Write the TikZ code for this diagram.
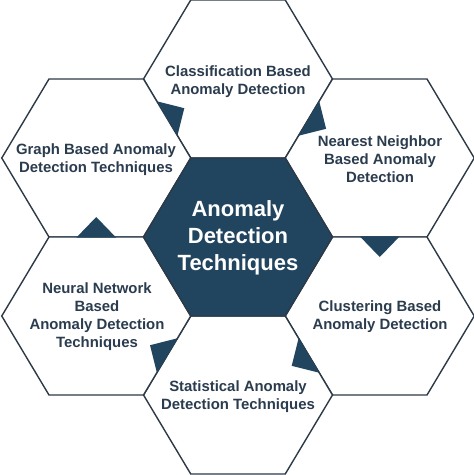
\documentclass[tikz,border=0pt]{standalone}
\usepackage{fontspec}
\setmainfont{Liberation Sans}
\usetikzlibrary{calc}
\definecolor{navy}{HTML}{21445F}
\definecolor{hexedge}{HTML}{2C3A47}
\definecolor{txt}{HTML}{2A3C4E}
\begin{document}
\begin{tikzpicture}[x=1pt,y=-1pt,
  hexline/.style={draw=hexedge, line width=1.4pt, line join=miter},
  outertext/.style={align=center, inner sep=0pt, font=\fontsize{14.9}{18}\selectfont\bfseries, text=txt},
  centertext/.style={align=center, inner sep=0pt, font=\fontsize{22}{27}\selectfont\bfseries, text=white},
  pointer/.style={fill=navy, draw=none},
  hexagon/.pic={\path[pic actions] (-94.5,0) -- (-47.25,-79) -- (47.25,-79) -- (94.5,0) -- (47.25,79) -- (-47.25,79) -- cycle;}]
\useasboundingbox (0,0) rectangle (474,475);
\clip (0,0) rectangle (474,475);
% hexagon centres
\coordinate (cC) at (238,237);
\coordinate (cT) at (238,79);
\coordinate (cG) at (96.25,158);
\coordinate (cN) at (379.75,158);
\coordinate (cK) at (379.75,316);
\coordinate (cS) at (238,395);
\coordinate (cR) at (96.25,316);
% outer hexagons
\foreach \c in {cT,cG,cN,cK,cS,cR}{
  \pic[hexline, fill=white] at (\c) {hexagon};
}
% central hexagon
\pic[hexline, fill=navy] at (cC) {hexagon};
% pointers (clockwise)
\fill[pointer] (156.9,101.3) -- (184.3,108.2) -- (177.4,135.7) -- cycle;
\fill[pointer] (319.2,101.3) -- (326.1,128.8) -- (298.6,135.7) -- cycle;
\fill[pointer] (359.75,236.3) -- (379.75,257) -- (399.75,236.3) -- cycle;
\fill[pointer] (298.6,338.3) -- (291.7,365.8) -- (319.2,372.7) -- cycle;
\fill[pointer] (177.4,338.3) -- (150.0,345.2) -- (156.9,372.7) -- cycle;
\fill[pointer] (76.25,237.7) -- (96.25,217) -- (116.25,237.7) -- cycle;
% texts
\node[centertext] (center) at (238,238) {Anomaly\\Detection\\Techniques};
\node[outertext] (class) at (238,82) {Classification Based\\Anomaly Detection};
\node[outertext] (graph) at (96,160) {Graph Based Anomaly\\Detection Techniques};
\node[outertext] (nn) at (380,159) {Nearest Neighbor\\Based Anomaly\\Detection};
\node[outertext] (neural) at (97,317) {Neural Network\\Based\\Anomaly Detection\\Techniques};
\node[outertext] (clust) at (380,317) {Clustering Based\\Anomaly Detection};
\node[outertext] (stat) at (238,397) {Statistical Anomaly\\Detection Techniques};
\end{tikzpicture}
\end{document}
